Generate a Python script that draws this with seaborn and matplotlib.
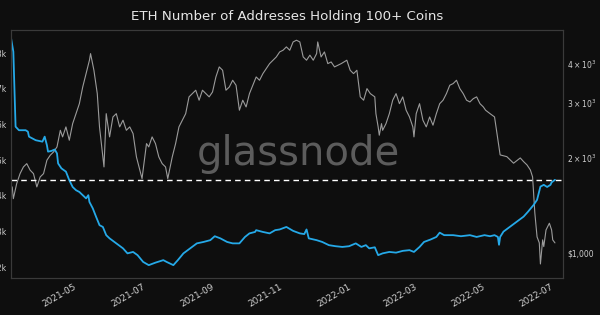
import pandas as pd
import matplotlib
matplotlib.use("Agg")
import matplotlib.pyplot as plt
import matplotlib.dates as mdates
import matplotlib.ticker as mticker
import seaborn as sns

# ==========================================
# DATA
# ==========================================

# addresses holding 100+ ETH, in thousands
addr_dates = [
    "2021-03-02", "2021-03-04", "2021-03-06", "2021-03-09", "2021-03-15", "2021-03-17",
    "2021-03-18", "2021-03-24", "2021-03-30", "2021-04-01", "2021-04-03", "2021-04-04",
    "2021-04-07", "2021-04-10", "2021-04-12", "2021-04-13", "2021-04-16", "2021-04-20",
    "2021-04-23", "2021-04-26", "2021-04-29", "2021-05-02", "2021-05-05", "2021-05-08",
    "2021-05-10", "2021-05-11", "2021-05-14", "2021-05-17", "2021-05-20", "2021-05-23",
    "2021-05-26", "2021-05-29", "2021-06-04", "2021-06-10", "2021-06-14", "2021-06-19",
    "2021-06-23", "2021-06-28", "2021-07-03", "2021-07-09", "2021-07-16", "2021-07-19",
    "2021-07-25", "2021-07-29", "2021-08-03", "2021-08-09", "2021-08-15", "2021-08-21",
    "2021-08-27", "2021-08-31", "2021-09-05", "2021-09-11", "2021-09-16", "2021-09-22",
    "2021-09-27", "2021-10-01", "2021-10-06", "2021-10-07", "2021-10-13", "2021-10-19",
    "2021-10-24", "2021-10-28", "2021-11-03", "2021-11-09", "2021-11-15", "2021-11-19",
    "2021-11-21", "2021-11-23", "2021-11-30", "2021-12-05", "2021-12-11", "2021-12-17",
    "2021-12-23", "2021-12-29", "2022-01-04", "2022-01-09", "2022-01-13", "2022-01-16",
    "2022-01-21", "2022-01-24", "2022-01-28", "2022-02-03", "2022-02-09", "2022-02-15",
    "2022-02-21", "2022-02-25", "2022-03-02", "2022-03-06", "2022-03-12", "2022-03-17",
    "2022-03-20", "2022-03-24", "2022-04-01", "2022-04-08", "2022-04-16", "2022-04-22",
    "2022-04-29", "2022-05-04", "2022-05-08", "2022-05-11", "2022-05-12", "2022-05-13",
    "2022-05-16", "2022-05-22", "2022-05-28", "2022-06-03", "2022-06-07", "2022-06-12",
    "2022-06-15", "2022-06-18", "2022-06-21", "2022-06-24", "2022-06-27", "2022-06-28",
    "2022-07-01",
]
addr_k = [
    48.41, 48.04, 45.94, 45.84, 45.84, 45.80,
    45.66, 45.56, 45.52, 45.66, 45.42, 45.24,
    45.26, 45.30, 45.19, 44.91, 44.77, 44.68,
    44.44, 44.25, 44.16, 44.11, 44.02, 43.93,
    44.02, 43.83, 43.65, 43.41, 43.18, 43.13,
    42.90, 42.81, 42.67, 42.53, 42.39, 42.43,
    42.34, 42.15, 42.06, 42.13, 42.20, 42.15,
    42.06, 42.20, 42.39, 42.53, 42.67, 42.71,
    42.76, 42.87, 42.81, 42.71, 42.67, 42.67,
    42.85, 42.95, 42.99, 43.04, 42.99, 42.95,
    43.04, 43.06, 43.13, 43.02, 42.95, 42.93,
    43.06, 42.81, 42.76, 42.71, 42.62, 42.59,
    42.57, 42.59, 42.67, 42.57, 42.62, 42.53,
    42.56, 42.34, 42.39, 42.43, 42.41, 42.46,
    42.48, 42.43, 42.57, 42.71, 42.78, 42.85,
    42.97, 42.90, 42.90, 42.87, 42.90, 42.85,
    42.90, 42.87, 42.90, 42.85, 42.63, 42.85,
    43.00, 43.14, 43.28, 43.42, 43.56, 43.75,
    43.89, 44.26, 44.31, 44.25, 44.31, 44.38,
    44.45,
]

# ETH price in USD
price_dates = [
    "2021-03-03", "2021-03-04", "2021-03-07", "2021-03-10", "2021-03-13", "2021-03-16",
    "2021-03-19", "2021-03-22", "2021-03-25", "2021-03-28", "2021-03-31", "2021-04-03",
    "2021-04-06", "2021-04-09", "2021-04-12", "2021-04-15", "2021-04-17", "2021-04-20",
    "2021-04-23", "2021-04-26", "2021-04-29", "2021-05-02", "2021-05-05", "2021-05-08",
    "2021-05-11", "2021-05-12", "2021-05-15", "2021-05-18", "2021-05-20", "2021-05-22",
    "2021-05-24", "2021-05-26", "2021-05-29", "2021-06-01", "2021-06-04", "2021-06-07",
    "2021-06-10", "2021-06-13", "2021-06-16", "2021-06-19", "2021-06-22", "2021-06-25",
    "2021-06-27", "2021-07-01", "2021-07-03", "2021-07-06", "2021-07-09", "2021-07-12",
    "2021-07-15", "2021-07-18", "2021-07-20", "2021-07-24", "2021-07-27", "2021-07-30",
    "2021-08-02", "2021-08-05", "2021-08-08", "2021-08-11", "2021-08-14", "2021-08-17",
    "2021-08-20", "2021-08-23", "2021-08-26", "2021-08-29", "2021-09-01", "2021-09-04",
    "2021-09-07", "2021-09-10", "2021-09-13", "2021-09-16", "2021-09-19", "2021-09-22",
    "2021-09-25", "2021-09-28", "2021-10-01", "2021-10-04", "2021-10-07", "2021-10-10",
    "2021-10-13", "2021-10-16", "2021-10-19", "2021-10-22", "2021-10-25", "2021-10-28",
    "2021-10-31", "2021-11-03", "2021-11-06", "2021-11-09", "2021-11-12", "2021-11-15",
    "2021-11-18", "2021-11-21", "2021-11-24", "2021-11-27", "2021-11-30", "2021-12-01",
    "2021-12-04", "2021-12-07", "2021-12-10", "2021-12-13", "2021-12-16", "2021-12-19",
    "2021-12-22", "2021-12-27", "2021-12-30", "2022-01-02", "2022-01-05", "2022-01-08",
    "2022-01-11", "2022-01-14", "2022-01-17", "2022-01-21", "2022-01-22", "2022-01-24",
    "2022-01-25", "2022-01-27", "2022-01-28", "2022-01-31", "2022-02-03", "2022-02-06",
    "2022-02-09", "2022-02-12", "2022-02-15", "2022-02-18", "2022-02-21", "2022-02-24",
    "2022-02-25", "2022-02-27", "2022-03-02", "2022-03-05", "2022-03-08", "2022-03-11",
    "2022-03-14", "2022-03-17", "2022-03-20", "2022-03-23", "2022-03-26", "2022-03-29",
    "2022-04-01", "2022-04-04", "2022-04-07", "2022-04-10", "2022-04-13", "2022-04-16",
    "2022-04-19", "2022-04-22", "2022-04-25", "2022-04-28", "2022-04-30", "2022-05-04",
    "2022-05-08", "2022-05-11", "2022-05-13", "2022-05-19", "2022-05-25", "2022-05-31",
    "2022-06-03", "2022-06-06", "2022-06-09", "2022-06-11", "2022-06-13", "2022-06-15",
    "2022-06-17", "2022-06-18", "2022-06-20", "2022-06-21", "2022-06-23", "2022-06-26",
    "2022-06-28", "2022-06-29", "2022-07-01",
]
price_usd = [
    1620, 1486, 1660, 1786, 1876, 1922,
    1832, 1786, 1620, 1743, 1786, 1971,
    2045, 2095, 2173, 2455, 2339, 2517,
    2282, 2578, 2774, 2985, 3374, 3722,
    4107, 4311, 3815, 3214, 2517, 2173,
    1876, 2774, 2339, 2708, 2774, 2517,
    2644, 2455, 2517, 2396, 2019, 1832,
    1722, 2227, 2173, 2339, 2227, 2019,
    1922, 1876, 1722, 2019, 2227, 2517,
    2644, 2774, 3138, 3214, 3295, 3062,
    3295, 3214, 3138, 3253, 3632, 3910,
    3815, 3295, 3374, 3545, 3418, 2845,
    3062, 2914, 3214, 3418, 3632, 3545,
    3722, 3860, 4006, 4107, 4207, 4365,
    4419, 4529, 4419, 4697, 4756, 4697,
    4207, 4107, 4262, 4107, 4311, 4697,
    4207, 4365, 4006, 4055, 3910, 3959,
    4006, 4107, 3815, 3722, 3815, 3138,
    3062, 3334, 3214, 3138, 2774, 2517,
    2368, 2578, 2455, 2578, 2774, 3062,
    3214, 2985, 3138, 2845, 2708, 2517,
    2339, 2774, 2985, 2644, 2517, 2708,
    2549, 2774, 2985, 3062, 3214, 3418,
    3459, 3545, 3334, 3214, 3062, 3023,
    3097, 3138, 2985, 2914, 2845, 2774,
    2708, 2287, 2049, 2023, 1928, 2004,
    1950, 1904, 1835, 1743, 1339, 1122,
    1074, 920, 1098, 1045, 1181, 1241,
    1181, 1098, 1074,
]

price_ticks = [1000, 2000, 3000, 4000]
price_tick_labels = ["$1,000", r"$2\times10^{3}$", r"$3\times10^{3}$", r"$4\times10^{3}$"]
addr_ticks = [42, 43, 44, 45, 46, 47, 48]
addr_tick_labels = ["42k", "43k", "44k", "45k", "46k", "47k", "48k"]

addr = pd.DataFrame({"date": pd.to_datetime(addr_dates), "value": addr_k})
price = pd.DataFrame({"date": pd.to_datetime(price_dates), "value": price_usd})

# ==========================================
# STYLE
# ==========================================

BG = "#0e0e0e"
TXT = "#cfcfcf"
BLUE = "#25a9e8"
GREY = "#9b9b9b"

sns.set_style("dark", rc={
    "axes.facecolor": BG,
    "figure.facecolor": BG,
    "axes.edgecolor": "#3a3a3a",
    "text.color": TXT,
    "xtick.color": TXT,
    "ytick.color": TXT,
    "axes.labelcolor": TXT,
})
plt.rcParams["font.family"] = ["DejaVu Sans"]
plt.rcParams["mathtext.default"] = "regular"

fig = plt.figure(figsize=(6, 3.15), dpi=100)
ax = fig.add_axes([0.0185, 0.1175, 0.9195, 0.7875])

# price on the back axes (right, log)
sns.lineplot(data=price, x="date", y="value", ax=ax, color=GREY, linewidth=0.8)

# watermark
ax.text(0.52, 0.50, "glassnode", transform=ax.transAxes, ha="center", va="center",
        fontsize=29, color="#5c5c5c", zorder=0)

# addresses on top (left axis)
ax2 = ax.twinx()
sns.lineplot(data=addr, x="date", y="value", ax=ax2, color=BLUE, linewidth=1.3)
ax2.axhline(addr_k[-1], color="white", linestyle=(0, (4, 3)), linewidth=1.0)

# price axis -> right, log
ax.set_yscale("log")
ax.set_ylim(830, 5130)
ax.yaxis.tick_right()
ax.yaxis.set_major_locator(mticker.FixedLocator(price_ticks))
ax.yaxis.set_major_formatter(mticker.FixedFormatter(price_tick_labels))
ax.yaxis.set_minor_locator(mticker.NullLocator())
ax.tick_params(axis="y", which="both", length=0, pad=3, labelsize=5.5,
               left=False, labelleft=False, right=True, labelright=True)

# address axis -> left (labels run off the figure edge, as in the original)
ax2.set_ylim(41.7, 48.65)
ax2.set_yticks(addr_ticks)
ax2.set_yticklabels(addr_tick_labels)
ax2.tick_params(axis="y", length=0, pad=3, labelsize=5.5,
                left=True, labelleft=True, right=False, labelright=False)

for a in (ax, ax2):
    a.set_xlabel("")
    a.set_ylabel("")
    a.grid(False)
    for s in a.spines.values():
        s.set_color("#3a3a3a")
        s.set_linewidth(0.8)

ax.set_xlim(pd.Timestamp("2021-03-02"), pd.Timestamp("2022-07-08"))
ax.xaxis.set_major_locator(mdates.MonthLocator(bymonth=[1, 3, 5, 7, 9, 11]))
ax.xaxis.set_major_formatter(mdates.DateFormatter("%Y-%m"))
ax.tick_params(axis="x", length=0, pad=3, labelsize=6.5)
plt.setp(ax.get_xticklabels(), rotation=30, ha="right")

ax.set_title("ETH Number of Addresses Holding 100+ Coins", fontsize=9.6, color="#e6e6e6", pad=7)

fig.savefig("out.png", dpi=100, facecolor=BG)
